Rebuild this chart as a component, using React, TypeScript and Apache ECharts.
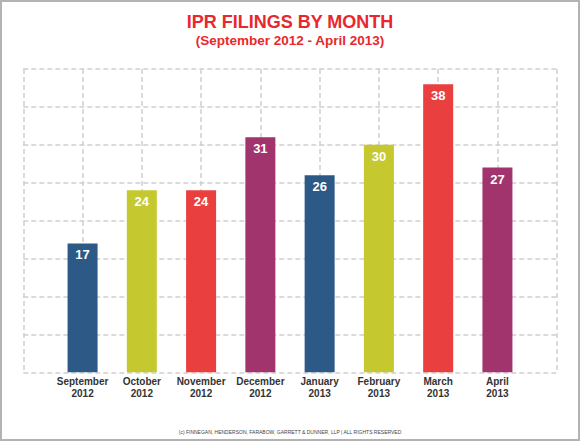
import React, { useEffect, useRef } from 'react';
import * as echarts from 'echarts';

const months = ['September', 'October', 'November', 'December', 'January', 'February', 'March', 'April'];
const years = ['2012', '2012', '2012', '2012', '2013', '2013', '2013', '2013'];
const filings = [17, 24, 24, 31, 26, 30, 38, 27];
const barColors = ['#2d5986', '#c5c92f', '#ea3f3f', '#a1336d'];

const FONT = '"Liberation Sans", Arial, sans-serif';

const App: React.FC = () => {
    const chartRef = useRef<HTMLDivElement | null>(null);

    useEffect(() => {
        if (!chartRef.current) return;
        const chart = echarts.init(chartRef.current, undefined, { renderer: 'svg' });

        const gridLine = {
            show: true,
            lineStyle: { color: '#cfcfcf', width: 1.5, type: [5, 3] as number[] },
        };

        chart.setOption({
            animation: false,
            backgroundColor: '#fff',
            title: [
                {
                    text: 'IPR FILINGS BY MONTH',
                    left: 'center',
                    top: 8,
                    textStyle: { color: '#e8282c', fontSize: 18, fontWeight: 'bold', fontFamily: FONT },
                },
                {
                    text: '(September 2012 - April 2013)',
                    left: 'center',
                    top: 28,
                    textStyle: { color: '#e8282c', fontSize: 13.5, fontWeight: 'bold', fontFamily: FONT },
                },
                {
                    text: '(c) FINNEGAN, HENDERSON, FARABOW, GARRETT & DUNNER, LLP | ALL RIGHTS RESERVED',
                    left: 'center',
                    top: 424,
                    textStyle: { color: '#444', fontSize: 5, fontWeight: 'normal', fontFamily: FONT },
                },
            ],
            graphic: [
                {
                    type: 'rect',
                    shape: { x: 1, y: 1, width: 578, height: 439 },
                    style: { fill: 'none', stroke: '#b3b3b3', lineWidth: 2 },
                    silent: true,
                },
            ],
            grid: { left: 23.3, right: 23.3, top: 69, bottom: 68.7 },
            xAxis: {
                type: 'value',
                min: 0,
                max: months.length + 1,
                interval: 1,
                axisLine: { show: false },
                axisTick: { show: false },
                splitLine: gridLine,
                axisLabel: {
                    margin: 3,
                    color: '#333',
                    fontSize: 10,
                    fontWeight: 'bold',
                    fontFamily: FONT,
                    lineHeight: 12,
                    formatter: (v: number) => {
                        const i = Math.round(v) - 1;
                        return i >= 0 && i < months.length ? months[i] + '\n' + years[i] : '';
                    },
                },
            },
            yAxis: {
                type: 'value',
                min: 0,
                max: 40,
                interval: 5,
                axisLine: { show: false },
                axisTick: { show: false },
                axisLabel: { show: false },
                splitLine: gridLine,
            },
            series: [
                {
                    type: 'bar',
                    barWidth: 30,
                    data: filings.map((v, i) => ({
                        value: [i + 1, v],
                        itemStyle: { color: barColors[i % barColors.length] },
                    })),
                    label: {
                        show: true,
                        position: 'insideTop',
                        distance: 5,
                        color: '#fff',
                        fontSize: 13,
                        fontWeight: 'bold',
                        fontFamily: FONT,
                        formatter: (p: any) => String(p.value[1]),
                    },
                },
            ],
        });

        return () => {
            chart.dispose();
        };
    }, []);

    return (
        <div
            ref={chartRef}
            style={{ position: 'fixed', left: 0, top: 0, width: '580px', height: '441px' }}
        />
    );
};

export default App;
